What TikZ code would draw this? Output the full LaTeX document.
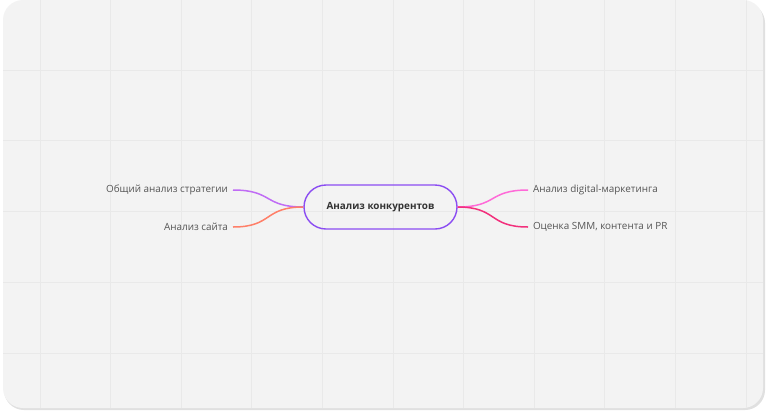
\documentclass[tikz,border=0pt]{standalone}
\usepackage{fontspec}
\setmainfont{Open Sans}
\usetikzlibrary{calc,shadows,positioning}

\definecolor{cardbg}{HTML}{F3F3F3}
\definecolor{gridln}{HTML}{E9E9E9}
\definecolor{topicln}{HTML}{8B4DF2}
\definecolor{txtgray}{HTML}{555555}
\definecolor{brA}{HTML}{C06CF5}
\definecolor{brB}{HTML}{FF7F68}
\definecolor{brC}{HTML}{FF6AD8}
\definecolor{brD}{HTML}{F2307C}

\tikzset{
  topic/.style={draw=topicln,line width=1.4pt,rounded corners=22pt,
    minimum width=153pt,minimum height=44pt,font=\fontsize{9.9}{12}\selectfont\bfseries,
    text=black!80},
  branch/.style={font=\fontsize{9.9}{12}\selectfont,text=txtgray,inner sep=2pt,outer sep=3pt},
  link/.style={line width=1.5pt}
}

\begin{document}
\begin{tikzpicture}[x=1pt,y=-1pt]
\useasboundingbox (0,0) rectangle (768,416);

% card
\fill[white] (0,0) rectangle (768,416);
\fill[black!12,rounded corners=20pt] (4,3) rectangle (765,410);
\fill[cardbg,rounded corners=20pt] (3,0) rectangle (763,408);
\begin{scope}
\clip[rounded corners=20pt] (3,0) rectangle (763,408);
\foreach \x in {0,...,10}
  \draw[gridln,line width=0.8pt] ({40+70.6*\x},0) -- ({40+70.6*\x},408);
\foreach \y in {0,...,4}
  \draw[gridln,line width=0.8pt] (3,{70+70.75*\y}) -- (763,{70+70.75*\y});
\end{scope}

\node[topic] (c) at (380.5,207) {Анализ конкурентов};

% left branches
\def\lbr{1/190/{Общий анализ стратегии}/brA,2/227/{Анализ сайта}/brB}
\foreach \i / \yy / \element / \col in \lbr {
  \node[branch,anchor=east] (l\i) at (233,\yy) {\element};
  \draw[link,\col] (c.west) .. controls +(-40,0) and +(40,0) .. (l\i.east);
}

% right branches
\def\rbr{1/190/{Анализ digital-маркетинга}/brC,2/227/{Оценка SMM, контента и PR}/brD}
\foreach \i / \yy / \element / \col in \rbr {
  \node[branch,anchor=west] (r\i) at (528,\yy) {\element};
  \draw[link,\col] (c.east) .. controls +(40,0) and +(-40,0) .. (r\i.west);
}

\end{tikzpicture}
\end{document}
